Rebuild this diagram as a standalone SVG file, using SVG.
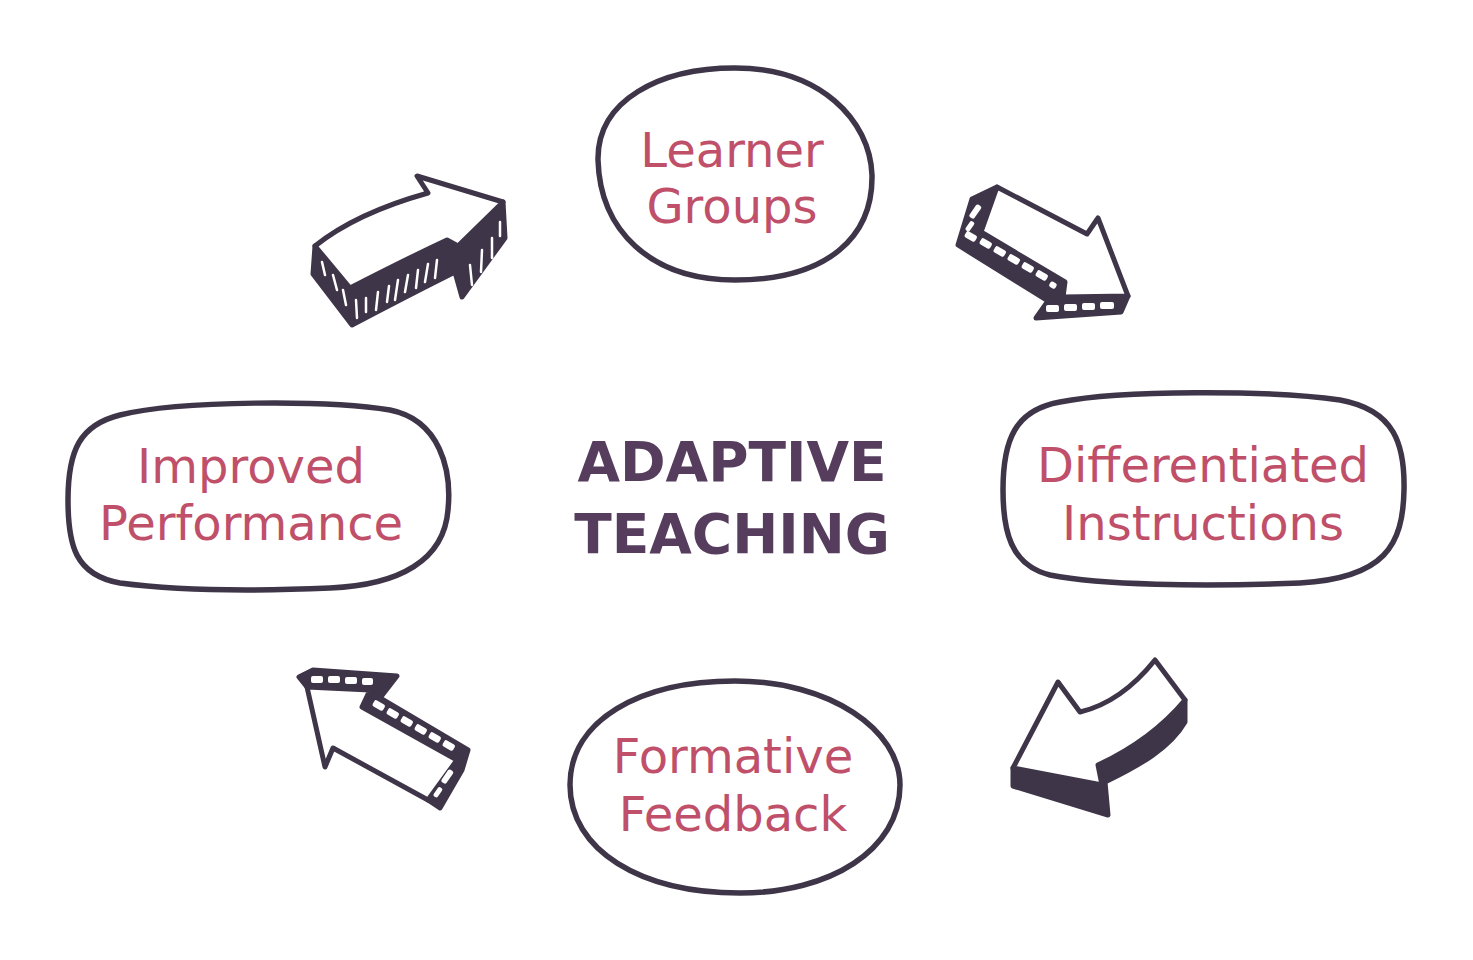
<svg xmlns="http://www.w3.org/2000/svg" width="1473" height="960" viewBox="0 0 1473 960">
<style>
.blob{fill:#fff;stroke:#3f3548;stroke-width:5.5;stroke-linejoin:round}
.lbl{font-family:"DejaVu Sans",sans-serif;font-size:48px;fill:#c0506a;text-anchor:middle}
.ttl{font-family:"DejaVu Sans",sans-serif;font-weight:bold;font-size:55px;fill:#563d5e;text-anchor:middle}
.face{fill:#fff;stroke:#3f3548;stroke-width:5;stroke-linejoin:round}
.dark{fill:#3f3548;stroke:#3f3548;stroke-width:5;stroke-linejoin:round}
.hatch{stroke:#fff;stroke-width:2.5;stroke-linecap:round;fill:none}
.win{fill:#fff}
</style>
<rect width="1473" height="960" fill="#fff"/>
<g id="title">
<text class="ttl" x="732" y="481">ADAPTIVE</text>
<text class="ttl" x="732" y="553">TEACHING</text>
</g>
<g id="learner-groups">
<path class="blob" d="M 735 68 C 820 68 870 120 872 175 C 873 235 830 280 735 280 C 650 280 600 230 598 160 C 597 100 660 68 735 68 Z"/>
<text class="lbl" x="732" y="167">Learner</text>
<text class="lbl" x="732" y="223">Groups</text>
</g>
<g id="differentiated-instructions">
<path class="blob" d="M 1060 402 C 1120 390 1270 390 1340 400 C 1395 410 1405 445 1404 490 C 1403 545 1385 578 1300 583 C 1200 587 1100 585 1050 575 C 1010 565 1003 530 1003 490 C 1003 440 1015 410 1060 402 Z"/>
<text class="lbl" x="1203" y="482">Differentiated</text>
<text class="lbl" x="1203" y="540">Instructions</text>
</g>
<g id="formative-feedback">
<path class="blob" d="M 735 681 C 830 681 900 730 900 785 C 900 850 830 893 740 893 C 640 893 570 850 570 785 C 570 720 640 681 735 681 Z"/>
<text class="lbl" x="733" y="773">Formative</text>
<text class="lbl" x="733" y="831">Feedback</text>
</g>
<g id="improved-performance">
<path class="blob" d="M 120 415 C 180 400 330 400 390 410 C 440 420 452 470 448 510 C 444 560 400 585 330 588 C 260 591 180 591 120 583 C 75 575 68 545 68 500 C 68 450 80 425 120 415 Z"/>
<text class="lbl" x="251" y="483">Improved</text>
<text class="lbl" x="251" y="540">Performance</text>
</g>
<g id="connectors">
<g id="arrow-top-left">
<path class="dark" d="M 315 246 L 313 274 L 352 325 C 390 305 425 287 455 272 L 462 297 L 505 238 L 503 202 L 458 246 L 447 240 C 415 255 385 270 350 288 Z"/>
<path class="face" d="M 315 246 C 345 222 385 205 428 193 L 417 176 L 503 202 L 458 246 L 447 240 C 415 255 385 270 350 288 Z"/>
<path class="hatch" d="M 322 262 L 325 275 M 333 275 L 337 290 M 343 290 L 346 305 M 356 300 L 357 318 M 366 298 L 366 312 M 378 292 L 376 310 M 389 286 L 387 302 M 398 280 L 395 300 M 408 275 L 405 292 M 418 270 L 416 288 M 428 264 L 425 282 M 437 260 L 435 278 M 470 265 L 472 285 M 482 250 L 481 272 M 492 238 L 492 258 M 500 222 L 500 236"/>
</g>
<g id="arrow-top-right">
<path class="dark" d="M 958 245 L 972 199 L 997 187 L 981 232 L 1065 282 L 1063 297 L 1128 296 L 1121 312 L 1036 318 L 1048 301 Z"/>
<path class="face" d="M 997 187 L 1087 234 L 1098 218 L 1128 296 L 1063 297 L 1065 282 L 981 232 Z"/>
<g class="win">
<rect x="965" y="233" width="12" height="7" rx="2" transform="rotate(30 971 236)"/>
<rect x="980" y="240" width="12" height="7" rx="2" transform="rotate(30 986 243)"/>
<rect x="994" y="248" width="12" height="7" rx="2" transform="rotate(30 1000 251)"/>
<rect x="1008" y="256" width="12" height="7" rx="2" transform="rotate(30 1014 259)"/>
<rect x="1022" y="264" width="12" height="7" rx="2" transform="rotate(30 1028 267)"/>
<rect x="1036" y="272" width="12" height="7" rx="2" transform="rotate(30 1042 275)"/>
<rect x="1050" y="282" width="7" height="6" rx="2" transform="rotate(30 1053 284)"/>
<rect x="1046" y="305" width="13" height="7" rx="2"/>
<rect x="1064" y="304" width="13" height="7" rx="2"/>
<rect x="1082" y="303" width="13" height="7" rx="2"/>
<rect x="1100" y="302" width="14" height="7" rx="2"/>
<rect x="972" y="204" width="6" height="15" rx="2" transform="rotate(35 975 212)"/>
<rect x="967" y="221" width="5" height="11" rx="2" transform="rotate(35 970 227)"/>
</g>
</g>
<g id="arrow-bottom-right">
<path class="dark" d="M 1013 768 L 1013 786 L 1108 815 L 1105 782 C 1140 765 1170 748 1185 722 L 1185 700 C 1160 730 1130 750 1098 765 L 1102 785 Z"/>
<path class="face" d="M 1013 768 L 1058 682 L 1080 712 C 1110 705 1135 685 1155 660 L 1185 700 C 1160 730 1130 750 1098 765 L 1102 785 Z"/>
</g>
<g id="arrow-bottom-left">
<path class="dark" d="M 307 687 L 299 677 L 313 670 L 397 676 L 380 698 L 468 750 L 462 770 L 440 808 L 428 800 L 457 760 L 362 707 L 370 690 Z"/>
<path class="face" d="M 307 687 L 370 690 L 362 707 L 457 760 L 428 800 L 333 748 L 325 767 Z"/>
<g class="win">
<rect x="311" y="676" width="12" height="7" rx="2"/>
<rect x="328" y="676" width="12" height="7" rx="2"/>
<rect x="345" y="677" width="12" height="7" rx="2"/>
<rect x="362" y="678" width="11" height="7" rx="2"/>
<rect x="373" y="702" width="12" height="7" rx="2" transform="rotate(30 379 705)"/>
<rect x="387" y="710" width="12" height="7" rx="2" transform="rotate(30 393 713)"/>
<rect x="401" y="718" width="12" height="7" rx="2" transform="rotate(30 407 721)"/>
<rect x="415" y="726" width="12" height="7" rx="2" transform="rotate(30 421 729)"/>
<rect x="429" y="734" width="12" height="7" rx="2" transform="rotate(30 435 737)"/>
<rect x="443" y="742" width="12" height="7" rx="2" transform="rotate(30 449 745)"/>
<rect x="444" y="769" width="6" height="15" rx="2" transform="rotate(35 447 777)"/>
<rect x="435" y="787" width="5" height="11" rx="2" transform="rotate(35 438 793)"/>
</g>
</g>
</g>
</svg>
